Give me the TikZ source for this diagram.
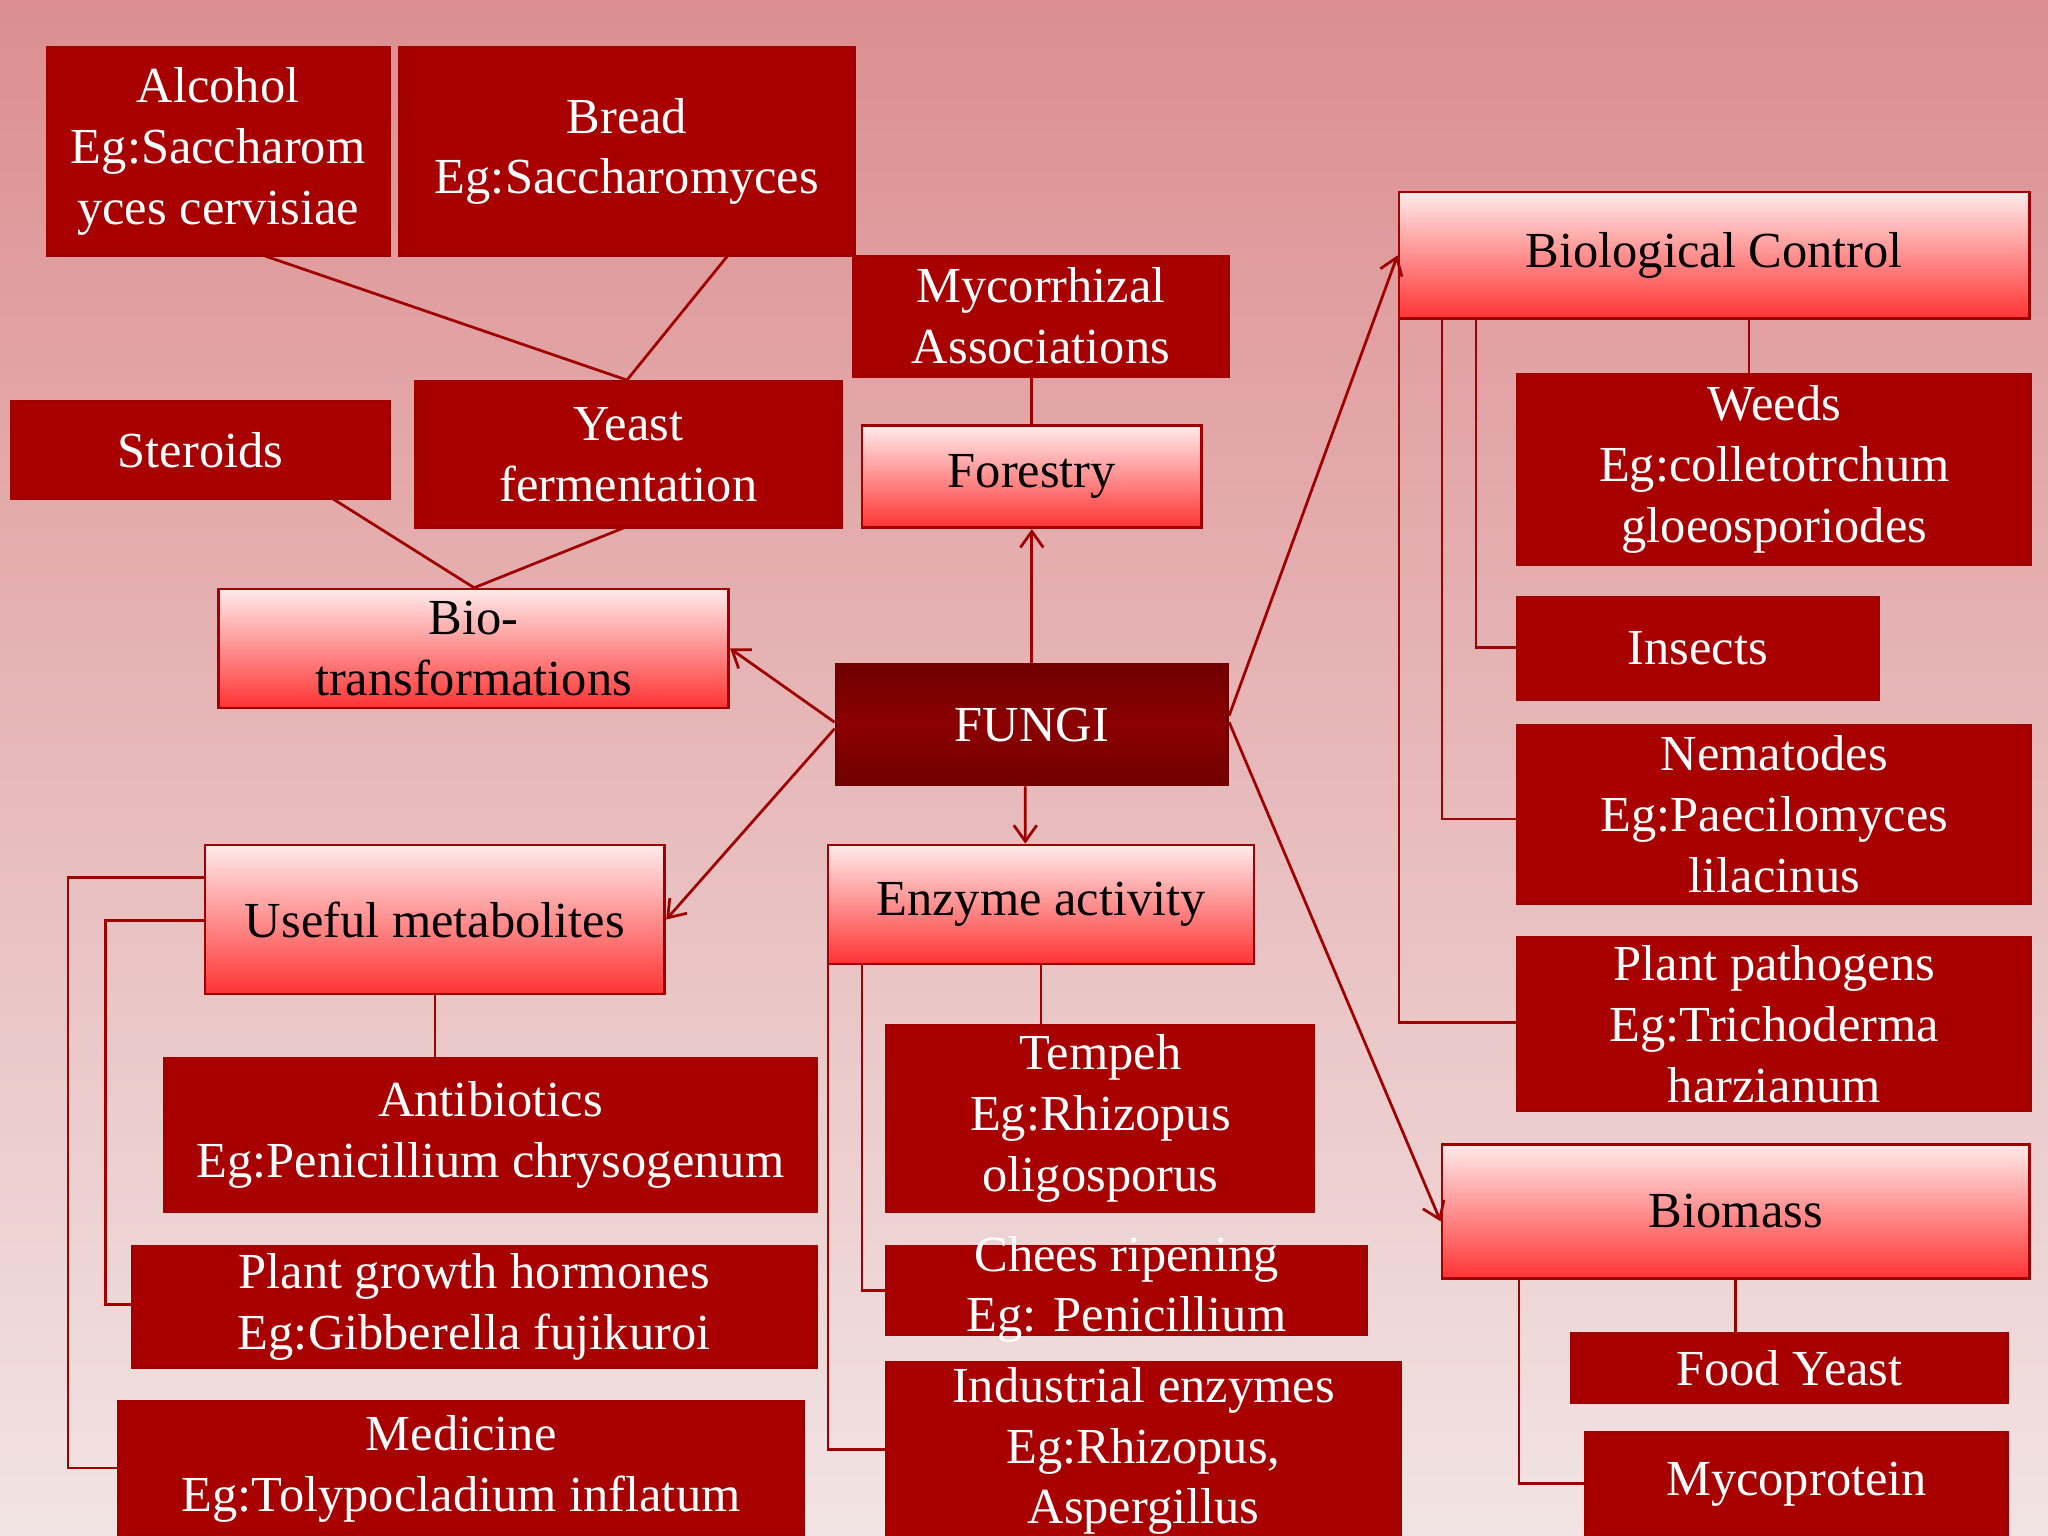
\documentclass[tikz,border=0pt]{standalone}
\usepackage{fontspec}
\setmainfont{Liberation Serif}
\usetikzlibrary{arrows.meta}
\definecolor{dk}{HTML}{A80000}
\definecolor{ln}{HTML}{A00000}
\definecolor{bgtop}{HTML}{DC8E90}
\definecolor{bgbot}{HTML}{F2E4E4}
\tikzset{
 base/.style={draw=ln,line width=1.2pt,inner sep=2pt,align=center,font=\fontsize{22}{26.5}\selectfont},
 dark/.style={base,fill=dk,text=white},
 grad/.style={base,top color=red!8!white,bottom color=red!80!white,text=black},
 fungi/.style={base,draw=ln!70!black,top color=ln!70!black,bottom color=ln!70!black,middle color=red!55!black,text=white},
 con/.style={ln,line width=1.2pt},
 arr/.style={con,-{Straight Barb[length=7pt,width=10pt]}}
}
\newcommand{\bx}[7]{\node[#6,minimum width={(#4-#2)*0.02cm},minimum height={(#5-#3)*0.02cm}] (#1) at ({(#2+#4)/2},{(#3+#5)/2}) {#7};}
\begin{document}
\begin{tikzpicture}[x=0.02cm,y=-0.02cm]
\shade[top color=bgtop,bottom color=bgbot] (0,0) rectangle (1568,1176);
\useasboundingbox (0,0) rectangle (1568,1176);
\draw[con] (203,196) -- (480,291) -- (557,196);
\draw[con] (255,382) -- (363,450) -- (478,404);
\draw[con] (790,288) -- (790,326);
\draw[con] (1339,244) -- (1339,287);
\draw[con] (1130,244) |- (1162,496);
\draw[con] (1104,244) |- (1162,627);
\draw[con] (1071,244) |- (1162,783);
\draw[con] (1329,979) -- (1329,1021);
\draw[con] (1163,979) |- (1214,1136);
\draw[con] (333,761) -- (333,810);
\draw[con] (157,705) -- (81,705) |- (101,999);
\draw[con] (157,672) -- (52,672) |- (91,1124);
\draw[con] (797,738) -- (797,785);
\draw[con] (660,738) |- (679,988);
\draw[con] (634,738) |- (679,1110);
\bx{alc}{36}{36}{298}{196}{dark}{Alcohol\\Eg:Saccharom\\yces cervisiae}
\bx{bread}{306}{36}{654}{196}{dark}{Bread\\Eg:Saccharomyces}
\bx{myc}{653}{196}{941}{288}{dark}{Mycorrhizal\\Associations}
\bx{ster}{9}{307}{298}{382}{dark}{Steroids}
\bx{yeast}{318}{292}{644}{404}{dark}{Yeast\\fermentation}
\bx{forest}{660}{326}{920}{404}{grad}{Forestry}
\bx{bio}{167}{451}{558}{542}{grad}{Bio-\\transformations}
\bx{fungi}{640}{509}{940}{601}{fungi}{FUNGI}
\bx{useful}{157}{647}{509}{761}{grad}{Useful metabolites}
\bx{enz}{634}{647}{960}{738}{grad}{Enzyme activity}
\bx{bc}{1071}{147}{1554}{244}{grad}{Biological Control}
\bx{weeds}{1162}{287}{1555}{432}{dark}{Weeds\\Eg:colletotrchum\\gloeosporiodes}
\bx{ins}{1162}{457}{1438}{536}{dark}{Insects}
\bx{nem}{1162}{555}{1555}{692}{dark}{Nematodes\\Eg:Paecilomyces\\lilacinus}
\bx{pp}{1162}{718}{1555}{850}{dark}{Plant pathogens\\Eg:Trichoderma\\harzianum}
\bx{biom}{1104}{876}{1554}{979}{grad}{Biomass}
\bx{fy}{1203}{1021}{1537}{1074}{dark}{Food Yeast}
\bx{mp}{1214}{1097}{1537}{1176}{dark}{Mycoprotein}
\bx{anti}{126}{810}{625}{928}{dark}{Antibiotics\\Eg:Penicillium chrysogenum}
\bx{pgh}{101}{954}{625}{1047}{dark}{Plant growth hormones\\Eg:Gibberella fujikuroi}
\bx{med}{91}{1073}{615}{1176}{dark}{Medicine\\Eg:Tolypocladium inflatum}
\bx{tem}{679}{785}{1006}{928}{dark}{Tempeh\\Eg:Rhizopus\\oligosporus}
\bx{chee}{679}{954}{1046}{1022}{dark}{\parbox[c][0pt][c]{7cm}{\centering\vspace*{0.15cm}Chees ripening\\Eg: Penicillium}}
\bx{ind}{679}{1046}{1072}{1176}{dark}{Industrial enzymes\\Eg:Rhizopus,\\Aspergillus}
\draw[arr] (fungi.north) -- (forest.south);
\draw[arr] ([yshift=-0.9cm]fungi.north west) -- (bio.east);
\draw[arr] ([yshift=-1cm]fungi.north west) -- (useful.east);
\draw[arr] ([xshift=-0.1cm]fungi.south) -- ([xshift=-0.24cm]enz.north);
\draw[arr] ([yshift=-0.8cm]fungi.north east) -- (bc.south west|-bc.west);
\draw[arr] ([yshift=-0.9cm]fungi.north east) -- ([yshift=0.9cm]biom.south west);
\end{tikzpicture}
\end{document}
